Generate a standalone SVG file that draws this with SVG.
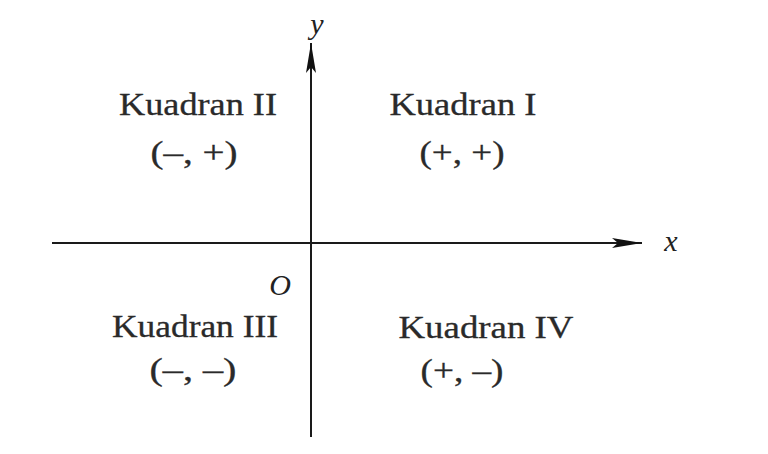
<svg xmlns="http://www.w3.org/2000/svg" width="768" height="454" viewBox="0 0 768 454">
<style>
.t{font-family:"Liberation Serif","Times New Roman",serif;font-size:31px;fill:#2a2a2a;stroke:#2a2a2a;stroke-width:0.3;text-anchor:middle}
.v{font-family:"Liberation Serif","Times New Roman",serif;font-size:30px;font-style:italic;fill:#222;text-anchor:middle}
.ax{stroke:#1a1a1a;stroke-width:2;fill:none}
</style>
<defs>
<marker id="arr" markerWidth="30" markerHeight="12" refX="30" refY="6" orient="auto" markerUnits="userSpaceOnUse">
<path d="M0,1 L30,6 L0,11 L6,6 Z" fill="#111"/>
</marker>
</defs>
<rect width="768" height="454" fill="#fff"/>
<g id="connectors">
<line class="ax" x1="52" y1="243" x2="642" y2="243" marker-end="url(#arr)"/>
<line class="ax" x1="311" y1="437" x2="311" y2="43" marker-end="url(#arr)"/>
</g>
<g id="label-x"><text class="v" x="671" y="251">x</text></g>
<g id="label-y"><text class="v" x="317" y="34">y</text></g>
<g id="label-O"><text class="v" x="280" y="295">O</text></g>
<g id="q2">
<text class="t" x="198" y="115" textLength="158" lengthAdjust="spacingAndGlyphs">Kuadran II</text>
<text class="t" x="194" y="163" textLength="87" lengthAdjust="spacingAndGlyphs">(–, +)</text>
</g>
<g id="q1">
<text class="t" x="463" y="115" textLength="147" lengthAdjust="spacingAndGlyphs">Kuadran I</text>
<text class="t" x="462" y="163" textLength="85" lengthAdjust="spacingAndGlyphs">(+, +)</text>
</g>
<g id="q3">
<text class="t" x="195" y="337" textLength="166" lengthAdjust="spacingAndGlyphs">Kuadran III</text>
<text class="t" x="193" y="380" textLength="87" lengthAdjust="spacingAndGlyphs">(–, –)</text>
</g>
<g id="q4">
<text class="t" x="486" y="338" textLength="175" lengthAdjust="spacingAndGlyphs">Kuadran IV</text>
<text class="t" x="462" y="381" textLength="83" lengthAdjust="spacingAndGlyphs">(+, –)</text>
</g>
</svg>
